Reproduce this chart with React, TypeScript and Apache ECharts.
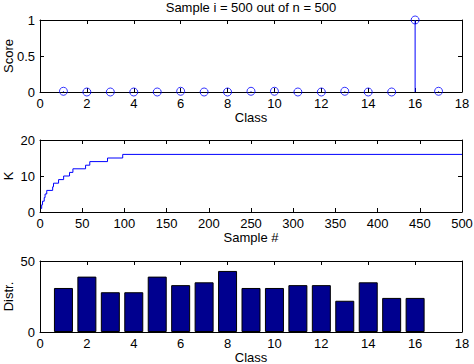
import React, { useEffect, useRef } from "react";
import * as echarts from "echarts";

// Panel 1: stem plot of class scores
const scoreClasses = [1, 2, 3, 4, 5, 6, 7, 8, 9, 10, 11, 12, 13, 14, 15, 16, 17];
const scoreValues = [0.01, 0, 0, 0, 0, 0.01, 0, 0, 0.01, 0.01, 0, 0, 0.01, 0, 0, 1, 0.01];

// Panel 2: number of classes K vs sample # (change points of the step curve)
const kSamples = [1, 2, 3, 5, 6, 8, 15, 16, 22, 28, 35, 39, 54, 59, 80, 98, 500];
const kValues = [1, 2, 3, 4, 5, 6, 7, 8, 9, 10, 11, 12, 13, 14, 15, 16, 16];

// Panel 3: class distribution
const distrClasses = [1, 2, 3, 4, 5, 6, 7, 8, 9, 10, 11, 12, 13, 14, 15, 16];
const distrValues = [31, 39, 28, 28, 39, 33, 35, 43, 31, 31, 33, 33, 22, 35, 24, 24];

const titleText = "Sample i = 500 out of n = 500";

const FONT = "Liberation Sans, Arial, Helvetica, sans-serif";
const BLUE = "#0000ff";

export default function App() {
  const ref = useRef<HTMLDivElement>(null);

  useEffect(() => {
    if (!ref.current) return;
    const chart = echarts.init(ref.current, undefined, { renderer: "svg" });

    const gridLeft = 40;
    const gridWidth = 422;
    const grids = [
      { left: gridLeft, top: 20, width: gridWidth, height: 72, containLabel: false, outerBoundsMode: "none" },
      { left: gridLeft, top: 140, width: gridWidth, height: 72, containLabel: false, outerBoundsMode: "none" },
      { left: gridLeft, top: 261, width: gridWidth, height: 71, containLabel: false, outerBoundsMode: "none" },
    ];

    const labelStyle = { color: "#000", fontSize: 13, fontFamily: FONT };
    const lineStyle = { color: "#000", width: 1 };

    const xDefs = [
      { min: 0, max: 18, interval: 2, name: "Class" },
      { min: 0, max: 500, interval: 50, name: "Sample #" },
      { min: 0, max: 18, interval: 2, name: "Class" },
    ];
    const yDefs = [
      { min: 0, max: 1, interval: 0.5, name: "Score" },
      { min: 0, max: 20, interval: 10, name: "K" },
      { min: 0, max: 50, interval: 50, name: "Distr." },
    ];

    const xAxis: any[] = [];
    const yAxis: any[] = [];
    xDefs.forEach((d, i) => {
      xAxis.push({
        type: "value",
        gridIndex: i,
        position: "bottom",
        min: d.min,
        max: d.max,
        interval: d.interval,
        name: d.name,
        nameLocation: "middle",
        nameGap: 19,
        nameTextStyle: labelStyle,
        axisLine: { show: true, onZero: false, lineStyle },
        axisTick: { show: true, inside: true, length: 4, lineStyle },
        axisLabel: { ...labelStyle, margin: 5, showMinLabel: true, showMaxLabel: true },
        splitLine: { show: false },
      });
      xAxis.push({
        type: "value",
        gridIndex: i,
        position: "top",
        min: d.min,
        max: d.max,
        interval: d.interval,
        axisLine: { show: true, onZero: false, lineStyle },
        axisTick: { show: true, inside: true, length: 4, lineStyle },
        axisLabel: { show: false },
        splitLine: { show: false },
      });
    });
    yDefs.forEach((d, i) => {
      yAxis.push({
        type: "value",
        gridIndex: i,
        position: "left",
        min: d.min,
        max: d.max,
        interval: d.interval,
        name: d.name,
        nameLocation: "middle",
        nameGap: 25,
        nameMoveOverlap: false,
        nameRotate: 90,
        nameTextStyle: labelStyle,
        axisLine: { show: true, onZero: false, lineStyle },
        axisTick: { show: true, inside: true, length: 4, lineStyle },
        axisLabel: { ...labelStyle, margin: 5 },
        splitLine: { show: false },
      });
      yAxis.push({
        type: "value",
        gridIndex: i,
        position: "right",
        min: d.min,
        max: d.max,
        interval: d.interval,
        axisLine: { show: true, onZero: false, lineStyle },
        axisTick: { show: true, inside: true, length: 4, lineStyle },
        axisLabel: { show: false },
        splitLine: { show: false },
      });
    });

    const scoreData = scoreClasses.map((c, i) => [c, scoreValues[i]]);
    const kData = kSamples.map((s, i) => [s, kValues[i]]);
    const distrData = distrClasses.map((c, i) => [c, distrValues[i]]);

    chart.setOption({
      animation: false,
      backgroundColor: "#fff",
      textStyle: { fontFamily: FONT },
      graphic: [
        {
          type: "text",
          x: gridLeft + gridWidth / 2,
          y: 1,
          style: {
            text: titleText,
            fill: "#000",
            font: `13px ${FONT}`,
            align: "center",
            verticalAlign: "top",
          },
        },
      ],
      grid: grids,
      xAxis,
      yAxis,
      series: [
        {
          type: "bar",
          xAxisIndex: 0,
          yAxisIndex: 0,
          data: scoreData,
          barWidth: 1,
          itemStyle: { color: BLUE },
          silent: true,
        },
        {
          type: "scatter",
          xAxisIndex: 0,
          yAxisIndex: 0,
          data: scoreData,
          symbol: "circle",
          symbolSize: 8,
          itemStyle: { color: "transparent", borderColor: BLUE, borderWidth: 1 },
          silent: true,
        },
        {
          type: "line",
          xAxisIndex: 2,
          yAxisIndex: 2,
          data: kData,
          step: "end",
          showSymbol: false,
          lineStyle: { color: BLUE, width: 1 },
          silent: true,
        },
        {
          type: "bar",
          xAxisIndex: 4,
          yAxisIndex: 4,
          data: distrData,
          barWidth: 19,
          itemStyle: { color: "#00008f", borderColor: "#000", borderWidth: 1 },
          silent: true,
        },
      ],
    });

    return () => chart.dispose();
  }, []);

  return (
    <div
      ref={ref}
      style={{ position: "fixed", left: 0, top: 0, width: 474, height: 364, background: "#fff" }}
    />
  );
}
